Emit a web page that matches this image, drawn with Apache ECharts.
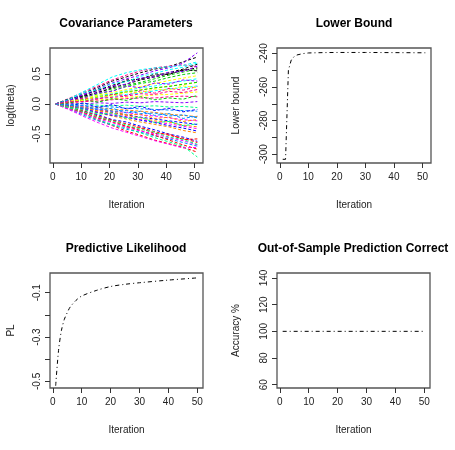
<!DOCTYPE html>
<html><head><meta charset="utf-8">
<script src="https://cdn.jsdelivr.net/npm/echarts@6/dist/echarts.min.js"></script>
<style>html,body{margin:0;background:#fff}#c{width:455px;height:450px}</style>
</head><body><div id="c"></div>
<script>
const thetaX = [1,6,11,16,21,26,31,36,41,46,51];
const thetaSeries = [
[0,0.08,0.18,0.28,0.38,0.45,0.52,0.58,0.62,0.70,0.78],
[0,-0.07,-0.16,-0.27,-0.36,-0.45,-0.52,-0.60,-0.66,-0.72,-0.80],
[0,0.06,0.12,0.20,0.25,0.31,0.36,0.42,0.48,0.53,0.58],
[0,-0.05,-0.12,-0.18,-0.26,-0.30,-0.37,-0.43,-0.50,-0.55,-0.62],
[0,0.04,0.09,0.14,0.17,0.22,0.27,0.30,0.35,0.38,0.42],
[0,-0.04,-0.08,-0.13,-0.17,-0.21,-0.26,-0.30,-0.33,-0.37,-0.41],
[0,0.02,0.05,0.07,0.08,0.11,0.13,0.15,0.16,0.18,0.20],
[0,-0.02,-0.04,-0.06,-0.09,-0.10,-0.12,-0.14,-0.17,-0.19,-0.21],
[0,0.01,0.00,0.02,0.01,0.03,0.02,0.04,0.03,0.02,0.04],
[0,-0.01,0.01,-0.02,-0.03,-0.02,-0.04,-0.03,-0.05,-0.04,-0.06],
[0,0.10,0.20,0.30,0.40,0.48,0.55,0.60,0.63,0.65,0.62],
[0,-0.09,-0.19,-0.28,-0.35,-0.42,-0.47,-0.53,-0.58,-0.64,-0.70],
[0,0.07,0.15,0.23,0.31,0.38,0.42,0.47,0.52,0.58,0.66],
[0,-0.06,-0.14,-0.22,-0.30,-0.37,-0.44,-0.52,-0.60,-0.68,-0.75],
[0,0.05,0.11,0.17,0.22,0.29,0.34,0.38,0.44,0.49,0.52],
[0,-0.03,-0.07,-0.10,-0.14,-0.18,-0.22,-0.25,-0.28,-0.31,-0.34],
[0,0.03,0.06,0.10,0.12,0.16,0.18,0.22,0.25,0.27,0.30],
[0,-0.02,-0.05,-0.09,-0.12,-0.14,-0.18,-0.20,-0.23,-0.26,-0.28],
[0,0.03,0.08,0.12,0.15,0.20,0.24,0.26,0.30,0.32,0.36],
[0,-0.05,-0.10,-0.15,-0.20,-0.25,-0.30,-0.34,-0.38,-0.44,-0.48],
[0,0.08,0.16,0.26,0.35,0.42,0.48,0.55,0.60,0.68,0.85],
[0,-0.08,-0.17,-0.26,-0.34,-0.40,-0.48,-0.56,-0.63,-0.70,-0.88],
[0,0.02,0.04,0.05,0.07,0.09,0.10,0.10,0.12,0.13,0.12],
[0,-0.01,-0.03,-0.04,-0.05,-0.07,-0.08,-0.09,-0.10,-0.11,-0.12],
[0,0.06,0.13,0.19,0.27,0.33,0.40,0.45,0.50,0.56,0.60],
[0,-0.06,-0.12,-0.20,-0.27,-0.33,-0.39,-0.46,-0.52,-0.57,-0.64],
[0,0.04,0.07,0.12,0.16,0.20,0.23,0.27,0.29,0.33,0.36],
[0,-0.04,-0.09,-0.14,-0.19,-0.22,-0.27,-0.31,-0.36,-0.40,-0.45],
[0,0.09,0.21,0.33,0.45,0.52,0.57,0.60,0.62,0.64,0.70],
[0,-0.10,-0.21,-0.31,-0.40,-0.47,-0.54,-0.61,-0.67,-0.73,-0.72],
[0,0.05,0.09,0.15,0.19,0.24,0.29,0.34,0.39,0.43,0.47],
[0,-0.03,-0.06,-0.11,-0.15,-0.19,-0.23,-0.28,-0.30,-0.35,-0.38],
[0,0.07,0.10,0.19,0.21,0.30,0.27,0.35,0.33,0.40,0.38],
[0,-0.06,-0.09,-0.17,-0.15,-0.24,-0.22,-0.31,-0.29,-0.36,-0.33],
[0,0.03,0.10,0.08,0.16,0.14,0.22,0.18,0.26,0.23,0.29],
[0,-0.05,-0.02,-0.10,-0.07,-0.15,-0.12,-0.19,-0.16,-0.24,-0.20],
[0,0.09,0.14,0.25,0.28,0.40,0.41,0.50,0.49,0.57,0.55],
[0,-0.08,-0.14,-0.24,-0.27,-0.38,-0.40,-0.49,-0.50,-0.59,-0.58],
[0,0.02,0.07,0.03,0.09,0.06,0.12,0.07,0.10,0.08,0.14],
[0,-0.03,0.02,-0.06,-0.01,-0.08,-0.04,-0.11,-0.07,-0.13,-0.09],
[0,0.08,0.19,0.24,0.34,0.37,0.46,0.51,0.57,0.61,0.68],
[0,-0.09,-0.16,-0.25,-0.31,-0.39,-0.45,-0.50,-0.56,-0.61,-0.68],
[0,0.05,0.06,0.13,0.13,0.20,0.19,0.25,0.23,0.30,0.27],
[0,-0.04,-0.06,-0.12,-0.11,-0.18,-0.17,-0.24,-0.22,-0.29,-0.26],
[0,0.06,0.16,0.21,0.30,0.33,0.43,0.45,0.53,0.54,0.63],
[0,-0.07,-0.13,-0.22,-0.28,-0.35,-0.42,-0.47,-0.55,-0.59,-0.67],
[0,0.04,0.04,0.09,0.11,0.13,0.17,0.16,0.21,0.19,0.24],
[0,-0.02,-0.07,-0.07,-0.12,-0.11,-0.16,-0.15,-0.20,-0.18,-0.23]
];
const palette = ['#000000','#ff0000','#00cd00','#0000ff','#00ffff','#ff00ff','#ffff00','#ff8800','#8800ff','#00ff88','#ff0088','#0088ff'];
const lbX = [1,2,3,4,5,6,8,10,15,20,30,40,51];
const lbY = [-303,-303,-250,-244,-242,-241,-240.2,-239.8,-239.6,-239.5,-239.5,-239.6,-239.7];
const plX = [1,2,3,4,5,6,8,10,15,20,25,30,40,50];
const plY = [-0.52,-0.36,-0.27,-0.22,-0.19,-0.165,-0.135,-0.115,-0.09,-0.072,-0.062,-0.055,-0.043,-0.033];
const accX = [1,50];
const accY = [100,100];
const xTicks = [0,10,20,30,40,50];
const titles = ['Covariance Parameters','Lower Bound','Predictive Likelihood','Out-of-Sample Prediction Correct'];
const yNames = ['log(theta)','Lower bound','PL','Accuracy %'];

const font = 'Liberation Sans, Arial, sans-serif';
const grids = [
  {left:50,top:48,width:153,height:115},
  {left:277,top:48,width:154,height:115},
  {left:50,top:273,width:153,height:115},
  {left:277,top:273,width:153,height:115}
].map(g=>Object.assign(g,{show:true,borderColor:'#555',borderWidth:1.3,backgroundColor:'transparent'}));
const xr = [[-1,53],[-1,53],[-0.96,51.96],[-0.96,51.96]];
const yr = [[-0.98,0.93],[-305.2,-236.85],[-0.53,-0.011],[57.5,143.75]];
const yTicks = [[-0.5,0,0.5],[-300,-290,-280,-270,-260,-250,-240],[-0.5,-0.4,-0.3,-0.2,-0.1],[60,80,100,120,140]];
const yLabs = [[-0.5,0,0.5],[-300,-280,-260,-240],[-0.5,-0.3,-0.1],[60,80,100,120,140]];
const yFmt = [v=>v.toFixed(1),v=>String(v),v=>v.toFixed(1),v=>String(v)];
const xAxis = xr.map((r,i)=>({type:'value',gridIndex:i,min:r[0],max:r[1],position:'bottom',
  axisLine:{show:false,onZero:false},splitLine:{show:false},
  axisTick:{show:true,inside:false,customValues:xTicks,length:5,lineStyle:{color:'#333'}},
  axisLabel:{customValues:xTicks,margin:9,color:'#222',fontSize:10,fontFamily:font},
  name:'Iteration',nameLocation:'middle',nameGap:37,nameTextStyle:{color:'#222',fontSize:10,fontFamily:font}}));
const yAxis = yr.map((r,i)=>({type:'value',gridIndex:i,min:r[0],max:r[1],position:'left',
  axisLine:{show:false,onZero:false},splitLine:{show:false},
  axisTick:{show:true,inside:false,customValues:yTicks[i],length:5,lineStyle:{color:'#333'}},
  axisLabel:{customValues:yLabs[i],rotate:90,margin:8,color:'#222',fontSize:10,fontFamily:font,formatter:yFmt[i]},
  name:yNames[i],nameLocation:'middle',nameGap:i===1||i===3?36:34,nameTextStyle:{color:'#222',fontSize:10,fontFamily:font}}));
const dd = {color:'#000',width:1,type:[4,3,1,3]};
const series = [];
thetaSeries.forEach((s,k)=>series.push({type:'line',xAxisIndex:0,yAxisIndex:0,symbol:'none',silent:true,
  data:s.map((v,j)=>[thetaX[j],v]),lineStyle:{color:palette[k%palette.length],width:1,type:[3,2]}}));
series.push({type:'line',xAxisIndex:1,yAxisIndex:1,symbol:'none',data:lbX.map((x,j)=>[x,lbY[j]]),lineStyle:dd});
series.push({type:'line',xAxisIndex:2,yAxisIndex:2,symbol:'none',smooth:0.3,data:plX.map((x,j)=>[x,plY[j]]),lineStyle:dd});
series.push({type:'line',xAxisIndex:3,yAxisIndex:3,symbol:'none',data:accX.map((x,j)=>[x,accY[j]]),lineStyle:dd});
const centers = [[126,24],[354,24],[126,249],[353,249]];
const graphic = titles.map((t,i)=>({type:'text',x:centers[i][0],y:centers[i][1],
  style:{text:t,textAlign:'center',textVerticalAlign:'middle',font:'bold 12px '+font,fill:'#000'}}));
const chart = echarts.init(document.getElementById('c'));
chart.setOption({animation:false,grid:grids,xAxis,yAxis,series,graphic});
</script></body></html>
